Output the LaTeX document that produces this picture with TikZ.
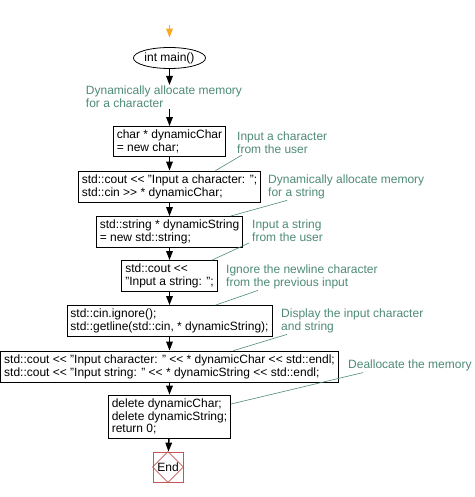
\documentclass[tikz,border=0pt]{standalone}
\usepackage{fontspec}
\setmainfont{Liberation Sans}
\usepackage{xcolor}
\usetikzlibrary{arrows.meta,shapes.geometric}

\definecolor{notegreen}{RGB}{78,138,118}
\definecolor{endred}{RGB}{196,86,86}
\definecolor{startorange}{RGB}{250,168,30}

\begin{document}
\begin{tikzpicture}[x=1pt,y=-1pt,
  font=\fontsize{12}{12.8}\selectfont,
  stmt/.style={draw=black, line width=0.8pt, align=left, inner xsep=3.5pt, inner ysep=3.5pt},
  note/.style={text=notegreen, align=left, inner sep=1pt},
  noteline/.style={draw=notegreen, line width=0.6pt},
  flow/.style={-{Triangle[length=9pt,width=6.5pt]}, line width=1.5pt}]
\useasboundingbox (0,0) rectangle (474,497);

\coordinate (start) at (169.5,25);
\node[ellipse, draw, line width=0.8pt, minimum width=66pt, minimum height=21pt, inner sep=0.5pt] (main) at (169.5,58) {int main()};
\node[note] (n0) at (164,97) {Dynamically allocate memory\\for a character};

\node[stmt] (b1) at (169.5,141.5) {char * dynamicChar\\= new char;};
\node[stmt] (b2) at (169.5,186.5) {std::cout <{}< "Input a character: ";\\std::cin >{}> * dynamicChar;};
\node[stmt] (b3) at (169.5,232) {std::string * dynamicString\\= new std::string;};
\node[stmt] (b4) at (169.5,276) {std::cout <{}<\\"Input a string: ";};
\node[stmt] (b5) at (169.5,321) {std::cin.ignore();\\std::getline(std::cin, * dynamicString);};
\node[stmt] (b6) at (169.5,366.5) {std::cout <{}< "Input character: " <{}< * dynamicChar <{}< std::endl;\\std::cout <{}< "Input string: " <{}< * dynamicString <{}< std::endl;};
\node[stmt] (b7) at (169.5,416.5) {delete dynamicChar;\\delete dynamicString;\\return 0;};
\node[draw=endred, line width=0.7pt, minimum size=30pt, inner sep=0pt] (end) at (168,467) {End};
\draw[endred, line width=0.7pt] (end.north) -- (end.east) -- (end.south) -- (end.west) -- cycle;

% comments
\node[note, anchor=north west] (n1) at (236,131) {Input a character\\from the user};
\node[note, anchor=north west] (n2) at (267,174) {Dynamically allocate memory\\for a string};
\node[note, anchor=north west] (n3) at (251,219) {Input a string\\from the user};
\node[note, anchor=north west] (n4) at (225,264) {Ignore the newline character\\from the previous input};
\node[note, anchor=north west] (n5) at (280,308) {Display the input character\\and string};
\node[note, anchor=north west] (n6) at (347,359) {Deallocate the memory};

\draw[noteline] ([xshift=6pt]n1.south west) -- ([xshift=46pt]b2.north);
\draw[noteline] ([xshift=20pt]n2.south west) -- ([xshift=61pt]b3.north);
\draw[noteline] ([xshift=-2pt]n3.south west) -- ([xshift=42.5pt]b4.north);
\draw[noteline] ([xshift=33pt]n4.south west) -- ([xshift=46pt]b5.north);
\draw[noteline] ([xshift=7pt]n5.south west) -- ([xshift=64pt]b6.north);
\draw[noteline] ([xshift=16pt]n6.south west) -- ([yshift=12.5pt]b7.east);

% flow
\draw[flow, startorange] (start) -- ([yshift=9.5pt]main.north);
\draw[flow] (main) -- (main |- n0.north);
\draw[flow] (b1 |- n0.south) -- (b1);
\foreach \a/\b in {b1/b2,b2/b3,b3/b4,b4/b5,b5/b6,b6/b7,b7/end}
    \draw[flow] (\a) -- (\b);
\end{tikzpicture}
\end{document}
